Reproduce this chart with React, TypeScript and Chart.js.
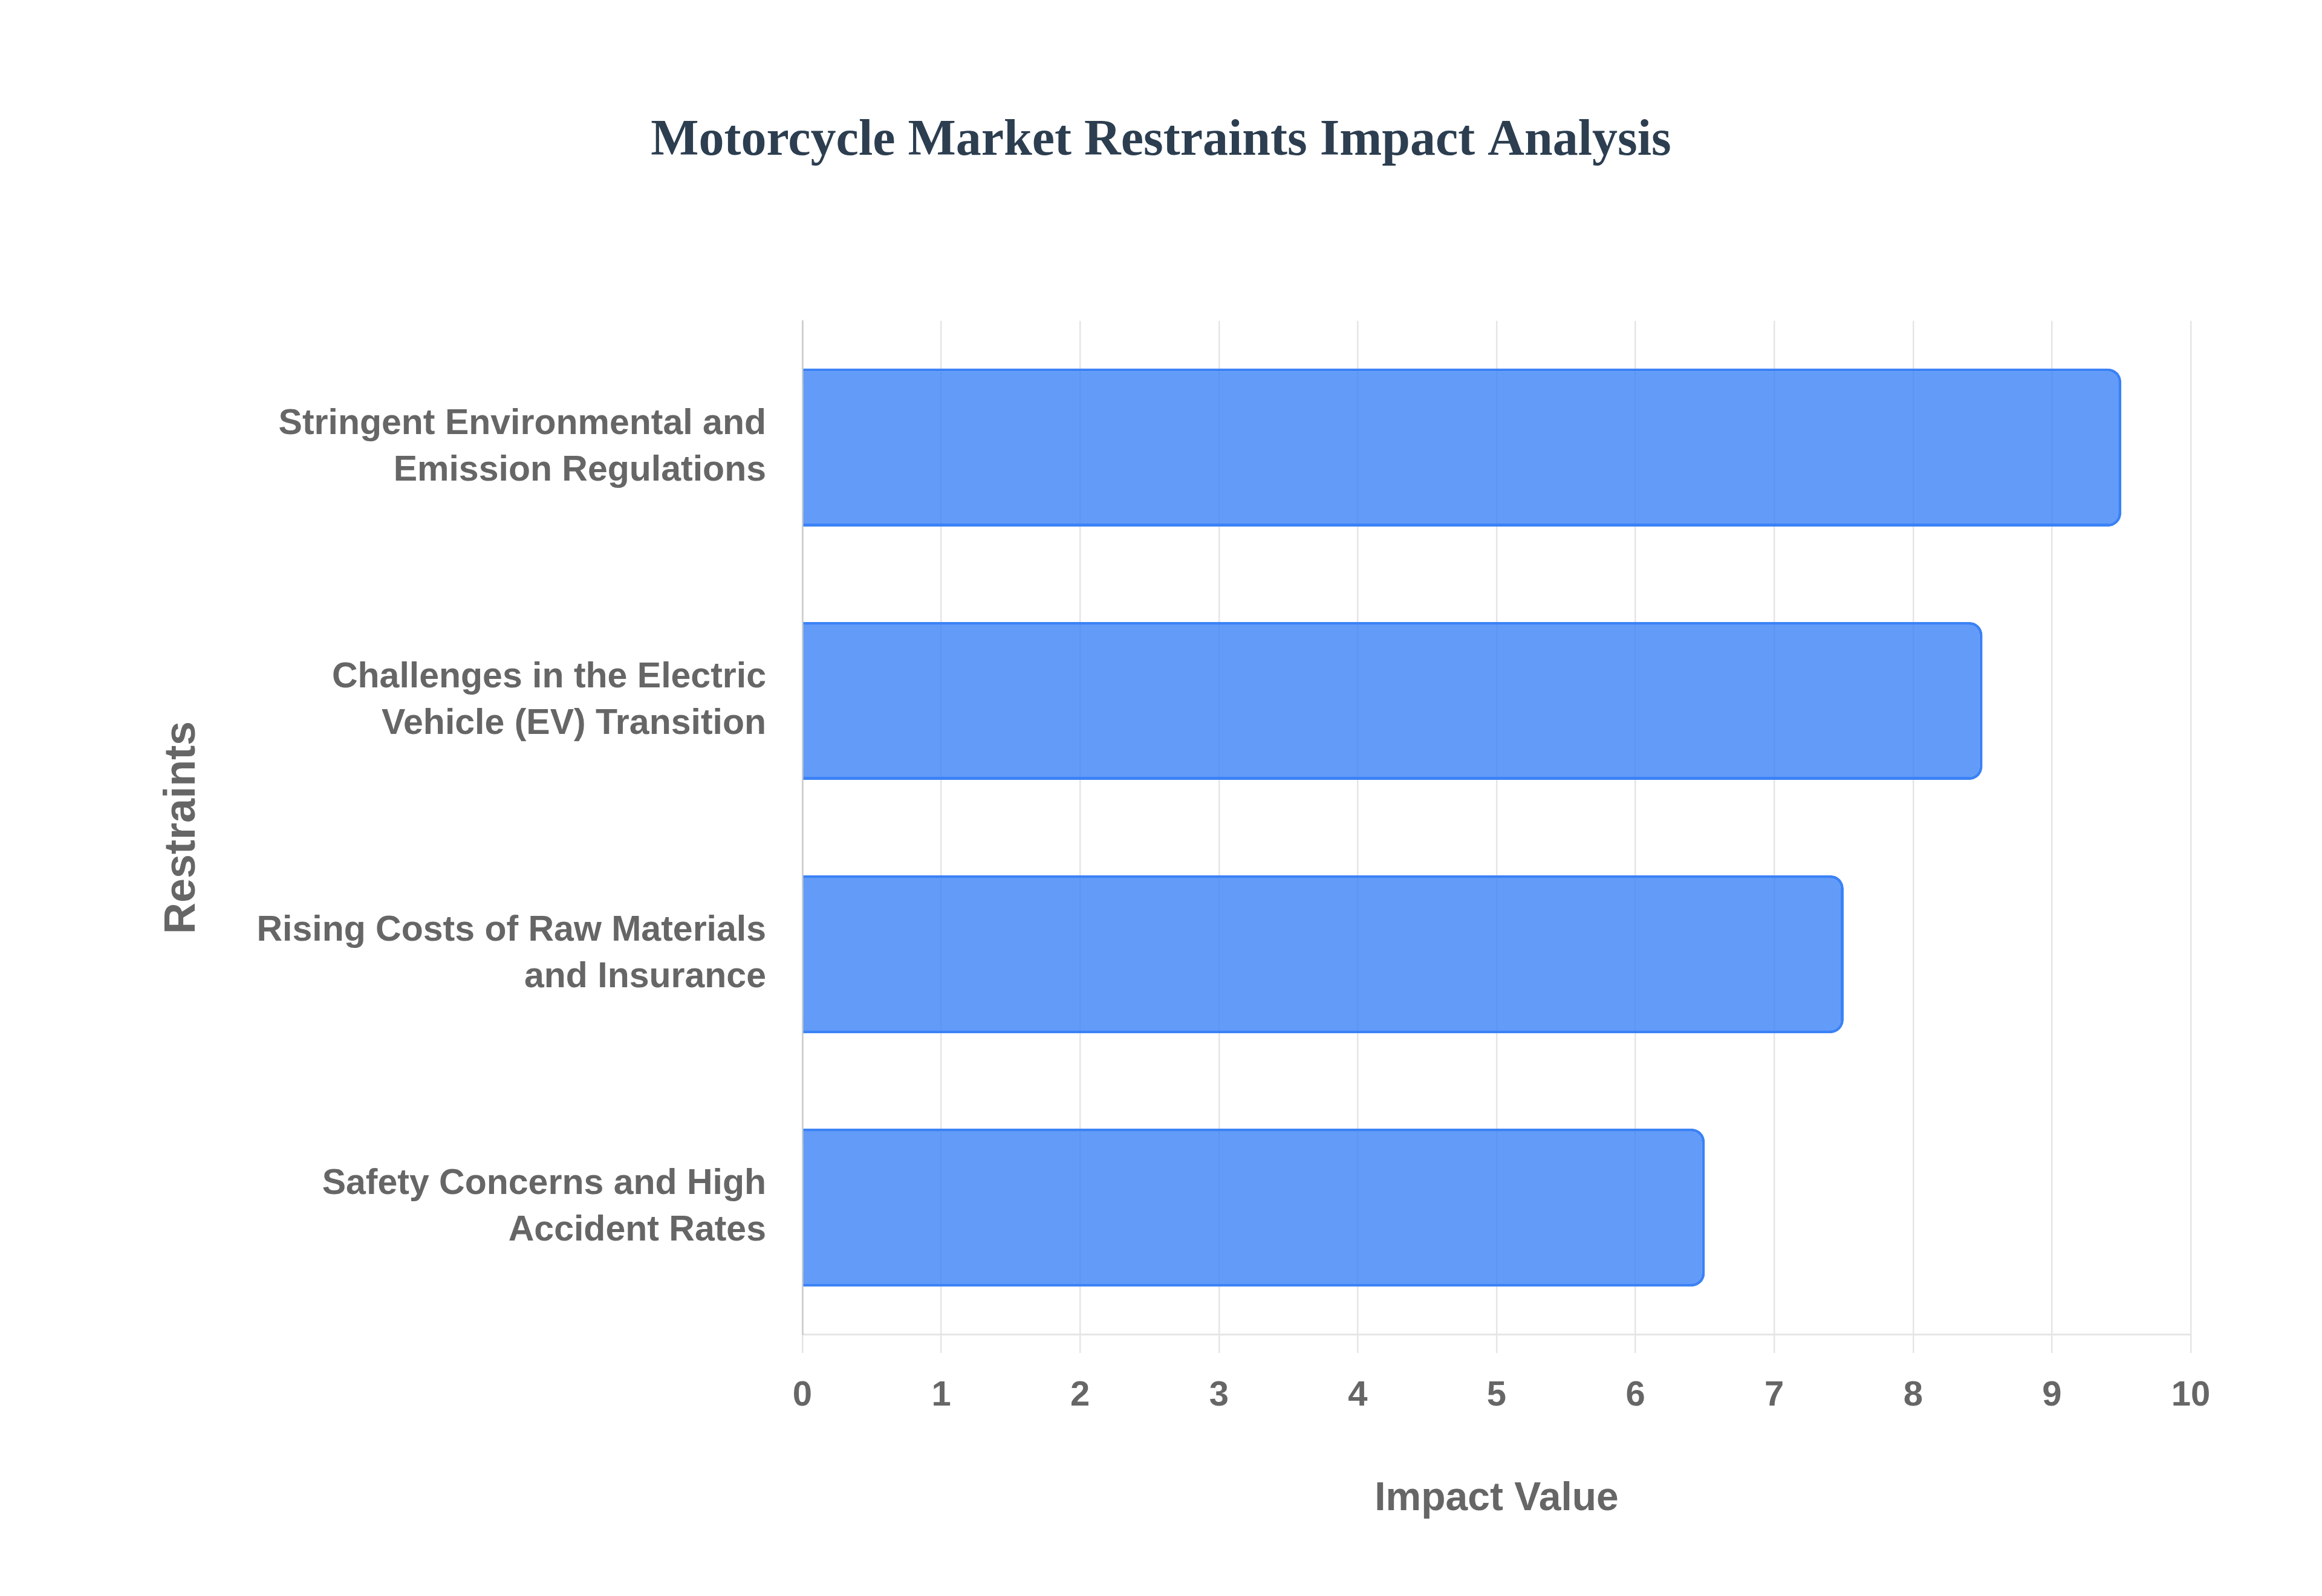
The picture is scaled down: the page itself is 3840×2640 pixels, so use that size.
import React, { useEffect, useRef } from "react";
import { Chart, registerables } from "chart.js";

Chart.register(...registerables);

const chartTitle = "Motorcycle Market Restraints Impact Analysis";
const xAxisTitle = "Impact Value";
const yAxisTitle = "Restraints";

const categories: string[][] = [
  ["Stringent Environmental and", "Emission Regulations"],
  ["Challenges in the Electric", "Vehicle (EV) Transition"],
  ["Rising Costs of Raw Materials", "and Insurance"],
  ["Safety Concerns and High", "Accident Rates"],
];
const impactValues = [9.5, 8.5, 7.5, 6.5];
const xMin = 0;
const xMax = 10;
const xStep = 1;

const W = 3840;
const H = 2640;
const SANS = "'Liberation Sans', Arial, Helvetica, sans-serif";
const SERIF = "'Liberation Serif', 'Times New Roman', Times, serif";
const GRAY = "#666666";

export default function App() {
  const ref = useRef<HTMLCanvasElement | null>(null);

  useEffect(() => {
    const canvas = ref.current;
    if (!canvas) return;
    const chart = new Chart(canvas, {
      type: "bar",
      data: {
        labels: categories,
        datasets: [
          {
            label: "Impact",
            data: impactValues,
            backgroundColor: "rgba(59,130,246,0.8)",
            borderColor: "#3b82f6",
            borderWidth: 5,
            borderRadius: 22,
            categoryPercentage: 0.8,
            barPercentage: 0.78,
          },
        ],
      },
      options: {
        indexAxis: "y",
        animation: false,
        responsive: false,
        devicePixelRatio: 1,
        layout: { padding: { left: 217, right: 217, top: 0, bottom: 0 } },
        plugins: {
          legend: { display: false },
          tooltip: { enabled: false },
          title: {
            display: true,
            text: chartTitle,
            color: "#2c3e50",
            font: { family: SERIF, size: 84, weight: "bold", lineHeight: 1.2 },
            padding: { top: 184, bottom: 246 },
          },
        },
        scales: {
          x: {
            type: "linear",
            min: xMin,
            max: xMax,
            ticks: {
              stepSize: xStep,
              color: GRAY,
              padding: 36,
              font: { family: SANS, size: 58, weight: "bold", lineHeight: 1.2 },
            },
            grid: {
              color: "rgba(0,0,0,0.1)",
              lineWidth: 2.5,
              drawTicks: true,
              tickLength: 31,
            },
            border: { display: true, color: "rgba(0,0,0,0.1)", width: 3 },
            title: {
              display: true,
              text: xAxisTitle,
              color: GRAY,
              font: { family: SANS, size: 66, weight: "bold", lineHeight: 1.2 },
              padding: { top: 0, bottom: 121 },
            },
            afterFit: (scale: any) => {
              scale.height = 433;
            },
          },
          y: {
            ticks: {
              color: GRAY,
              padding: 60,
              font: { family: SANS, size: 59, weight: "bold", lineHeight: 1.31 },
            },
            grid: { display: false, drawTicks: false },
            border: { display: true, color: "rgba(0,0,0,0.1)", width: 3 },
            title: {
              display: true,
              text: yAxisTitle,
              color: GRAY,
              font: { family: SANS, size: 72, weight: "bold", lineHeight: 1.2 },
              padding: { top: 42, bottom: 0 },
            },
            afterFit: (scale: any) => {
              scale.width = 1327 - 217;
            },
          },
        },
      },
      plugins: [
        {
          id: "whiteBg",
          beforeDraw: (c: any) => {
            const ctx = c.ctx;
            ctx.save();
            ctx.fillStyle = "#ffffff";
            ctx.fillRect(0, 0, c.width, c.height);
            ctx.restore();
          },
        },
      ],
    } as any);
    return () => chart.destroy();
  }, []);

  return (
    <div style={{ position: "fixed", left: 0, top: 0, width: W, height: H, background: "#fff" }}>
      <canvas ref={ref} width={W} height={H} style={{ width: W, height: H, display: "block" }} />
    </div>
  );
}
